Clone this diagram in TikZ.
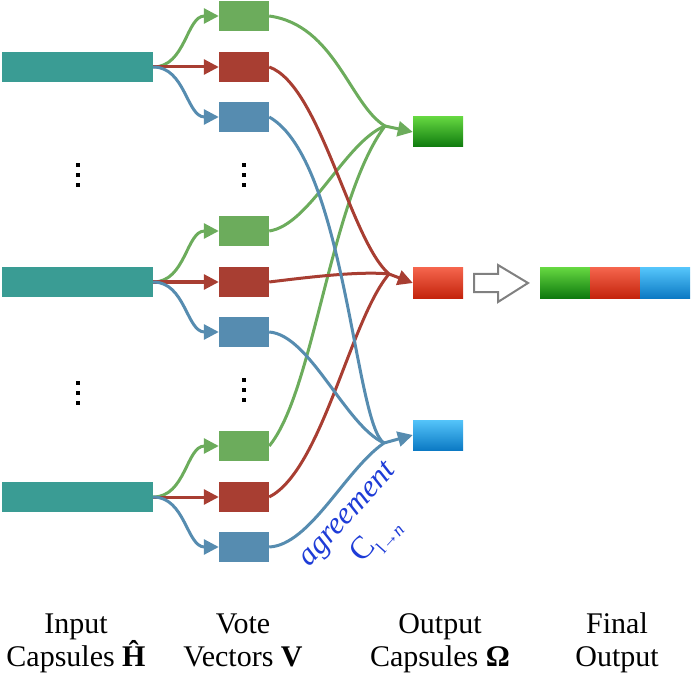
\documentclass[tikz,border=0pt]{standalone}
\usepackage{fontspec}
\setmainfont{Liberation Serif}
\usetikzlibrary{arrows.meta}
\definecolor{capteal}{RGB}{58,156,148}
\definecolor{votegreen}{RGB}{108,172,92}
\definecolor{votered}{RGB}{168,62,50}
\definecolor{voteblue}{RGB}{86,140,176}
\definecolor{agreeblue}{RGB}{30,60,215}
\definecolor{ogtop}{RGB}{100,214,64}
\definecolor{ogbot}{RGB}{14,122,14}
\definecolor{ortop}{RGB}{244,100,76}
\definecolor{orbot}{RGB}{196,36,12}
\definecolor{obtop}{RGB}{84,196,250}
\definecolor{obbot}{RGB}{12,122,196}
\tikzset{
	incap/.style={fill=capteal,minimum width=151pt,minimum height=30pt,inner sep=0},
	vote/.style={minimum width=50pt,minimum height=30pt,inner sep=0},
	outcap/.style={minimum width=50pt,minimum height=30pt,inner sep=0},
	route/.style={line width=3pt},
	tip/.style={-{Triangle[length=15pt,width=15pt]}},
	colname/.style={align=center,font=\fontsize{30}{33}\selectfont,inner sep=0,anchor=base}
}
\begin{document}
\begin{tikzpicture}[x=1pt,y=-1pt]
	\useasboundingbox (0,0) rectangle (693,676);
	% input capsules and their votes
	\foreach \g/\y in {1/67,2/282,3/497}{
		\node[incap] (in\g) at (77.5,\y) {};
		\node[vote,fill=votegreen] (vg\g) at (244,\y-51) {};
		\node[vote,fill=votered] (vr\g) at (244,\y) {};
		\node[vote,fill=voteblue] (vb\g) at (244,\y+50) {};
		\draw[route,votegreen,tip] (in\g.east) to[out=0,in=180] (vg\g.west);
		\draw[route,votered,tip] (in\g.east) -- (vr\g.west);
		\draw[route,voteblue,tip] (in\g.east) to[out=0,in=180] (vb\g.west);
	}
	% dots
	\foreach \x/\y in {78/165,244/165,78/383,244/380}
		\foreach \k in {0,1,2}
			\fill (\x-2,\y+10*\k-2) rectangle ++(4,4);
	% output capsules
	\node[outcap,top color=ogtop,bottom color=ogbot] (og) at (438,132) {};
	\node[outcap,top color=ortop,bottom color=orbot] (or) at (438,283) {};
	\node[outcap,top color=obtop,bottom color=obbot] (ob) at (438,435) {};
	\coordinate (cg) at (385,126);
	\coordinate (cr) at (389,274);
	\coordinate (cb) at (384,443);
	% routing
	\draw[route,votegreen] (vg1.east) .. controls (335,25) and (350,105) .. (cg);
	\draw[route,votegreen] (vg2.east) .. controls (310,225) and (345,142) .. (cg);
	\draw[route,votegreen] (vg3.east) .. controls (314,392) and (330,200) .. (cg);
	\draw[route,votered] (vr1.east) .. controls (320,85) and (350,240) .. (cr);
	\draw[route,votered] (vr2.east) .. controls (310,277) and (360,271) .. (cr);
	\draw[route,votered] (vr3.east) .. controls (322,470) and (350,320) .. (cr);
	\draw[route,voteblue] (vb1.east) .. controls (345,160) and (355,425) .. (cb);
	\draw[route,voteblue] (vb2.east) .. controls (310,335) and (345,425) .. (cb);
	\draw[route,voteblue] (vb3.east) .. controls (310,545) and (345,470) .. (cb);
	\draw[route,votegreen,tip] (cg) -- (og.west);
	\draw[route,votered,tip] (cr) -- (or.west);
	\draw[route,voteblue,tip] (cb) -- (ob.west);
	\node[agreeblue,rotate=48,inner sep=0,font=\fontsize{31}{31}\selectfont\itshape] (agree) at (349,516) {agreement};
	\node[agreeblue,rotate=48,inner sep=0,font=\fontsize{32}{32}\selectfont] (cln) at (376,540)
		{C\raisebox{-0.3em}{\fontsize{18}{18}\selectfont l→\textit{n}}};
	% final output
	\draw[gray,line width=2pt,line join=miter] (474,274) -- (498,274) -- (498,265) -- (528,283)
		-- (498,302) -- (498,292) -- (474,292) -- cycle;
	\node[outcap,top color=ogtop,bottom color=ogbot] (fg) at (565,283) {};
	\node[outcap,top color=ortop,bottom color=orbot] (fr) at (615,283) {};
	\node[outcap,top color=obtop,bottom color=obbot] (fb) at (665,283) {};
	% column names
	\node[colname] (nin) at (76,666) {Input\\Capsules \textbf{Ĥ}};
	\node[colname] (nvote) at (243,666) {Vote\\Vectors \textbf{V}};
	\node[colname] (nout) at (440,666) {Output\\Capsules \textbf{Ω}};
	\node[colname] (nfin) at (617,666) {Final\\Output};
\end{tikzpicture}
\end{document}
